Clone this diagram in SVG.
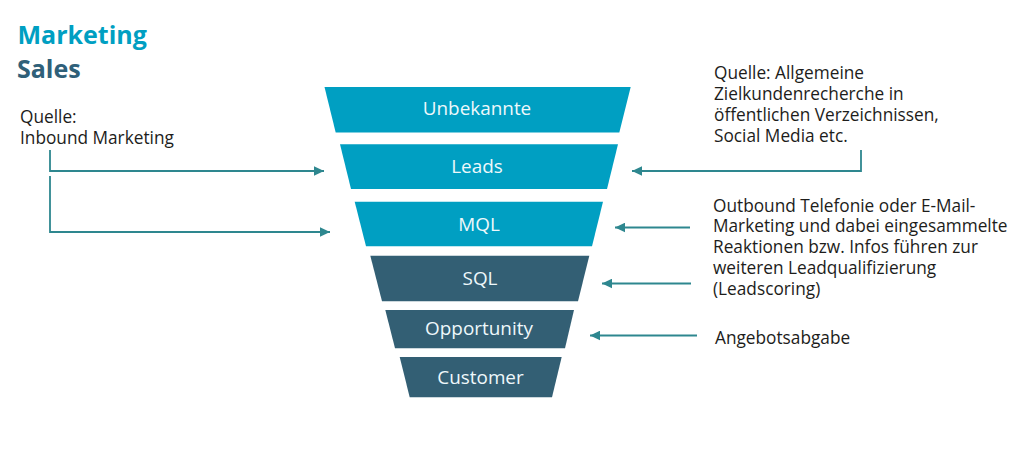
<svg xmlns="http://www.w3.org/2000/svg" width="1024" height="453" viewBox="0 0 1024 453">
<style>
text{font-family:"Open Sans","Liberation Sans",sans-serif}
.m{fill:#009fc2}.s{fill:#335f74}
.n{fill:#eef8fb;font-size:18.9px;text-anchor:middle}
.t{fill:#1d1d1b;font-size:17.25px}
.h{font-size:25px;font-weight:700}
.c{fill:none;stroke:#2e878f;stroke-width:1.8;marker-end:url(#a)}
</style>
<defs><marker id="a" markerUnits="userSpaceOnUse" markerWidth="10" markerHeight="10" refX="10" refY="5" orient="auto"><path d="M0 0.200L10 5L0 9.800z" fill="#2e878f"/></marker></defs>
<rect width="1024" height="453" fill="#fff"/>
<text class="h" x="17.500" y="44" fill="#009fc2">Marketing</text>
<text class="h" x="17" y="78" fill="#2f6079">Sales</text>
<g id="unbekannte"><polygon class="m" points="324.5,87 630.7,87 619.3,132.500 335.7,132.500"/><text class="n" x="477" y="115">Unbekannte</text></g>
<g id="leads"><polygon class="m" points="340,144.3 618,144.3 607,189 351,189"/><text class="n" x="477" y="173">Leads</text></g>
<g id="mql"><polygon class="m" points="354.7,201.7 603,201.7 592,246.3 366,246.3"/><text class="n" x="479" y="231">MQL</text></g>
<g id="sql"><polygon class="s" points="370.3,255.7 589.3,255.7 578,301.3 382,301.3"/><text class="n" x="480" y="285">SQL</text></g>
<g id="opportunity"><polygon class="s" points="385.3,310 574,310 565,348.3 395,348.3"/><text class="n" x="479" y="335">Opportunity</text></g>
<g id="customer"><polygon class="s" points="399.7,357 561.7,357 552,397.3 409.700,397.3"/><text class="n" x="480.500" y="384">Customer</text></g>
<g id="connectors">
<path class="c" d="M50 150V171H324"/>
<path class="c" d="M50 176V232H330"/>
<path class="c" d="M861 150V171H632"/>
<path class="c" d="M690 227.500H615"/>
<path class="c" d="M691 283.500H602"/>
<path class="c" d="M697 335.500H590"/>
</g>
<g id="label-inbound"><text class="t" x="20" y="123">Quelle:</text><text class="t" x="20" y="144">Inbound Marketing</text></g>
<g id="label-quelle"><text class="t" x="714" y="79">Quelle: Allgemeine<tspan x="714" dy="21">Zielkundenrecherche in</tspan><tspan x="714" dy="21">öffentlichen Verzeichnissen,</tspan><tspan x="714" dy="21">Social Media etc.</tspan></text></g>
<g id="label-outbound"><text class="t" x="713" y="211.500">Outbound Telefonie oder E-Mail-<tspan x="713" dy="20.800">Marketing und dabei eingesammelte</tspan><tspan x="713" dy="20.800">Reaktionen bzw. Infos führen zur</tspan><tspan x="713" dy="20.800">weiteren Leadqualifizierung</tspan><tspan x="713" dy="20.800">(Leadscoring)</tspan></text></g>
<g id="label-angebot"><text class="t" x="715" y="344">Angebotsabgabe</text></g>
</svg>
